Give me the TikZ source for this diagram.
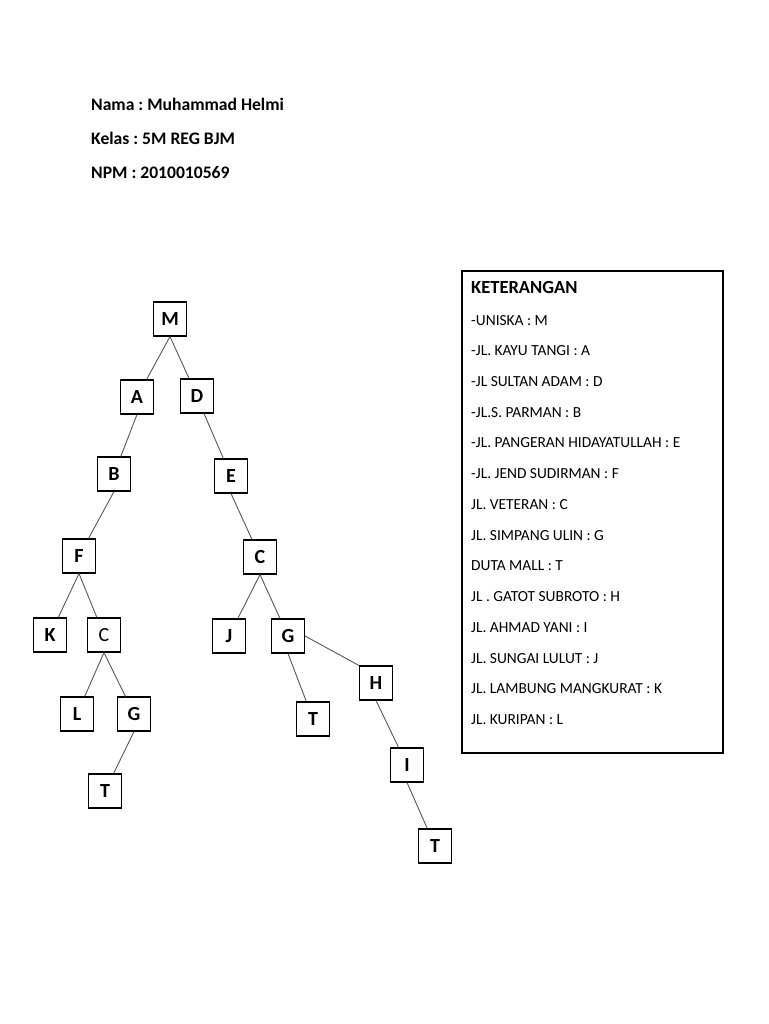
\documentclass[tikz,border=0pt]{standalone}
\usepackage{fontspec}
\setmainfont{Carlito}
\frenchspacing
\begin{document}
\begin{tikzpicture}[x=1pt,y=-1pt,
  box/.style={draw=black,line width=1.1pt,minimum width=33pt,minimum height=34pt,inner sep=0pt,font=\fontsize{20}{22}\selectfont\bfseries},
  tbox/.style={box,line width=1.8pt},
  edge/.style={draw=black!65,line width=0.9pt},
  hdr/.style={anchor=base west,inner sep=0pt,font=\fontsize{17.6}{20}\selectfont\bfseries},
  item/.style={anchor=base west,inner sep=0pt,font=\fontsize{15.4}{18}\selectfont}]
\useasboundingbox[fill=white] (0,0) rectangle (768,1024);
% header
\node[hdr] (h1) at (91,111) {Nama : Muhammad Helmi};
\node[hdr] (h2) at (91,145) {Kelas : 5M REG BJM};
\node[hdr] (h3) at (91,179) {NPM : 2010010569};
% tree nodes
\node[box] (M) at (170,319) {M};
\node[box] (A) at (137,397) {A};
\node[box] (D) at (197,396) {D};
\node[box] (B) at (114,474) {B};
\node[box] (E) at (231,476) {E};
\node[box] (F) at (79,556) {F};
\node[box] (K) at (50,635) {K};
\node[box,font=\fontsize{20}{22}\selectfont] (C1) at (104,635) {C};
\node[box] (L) at (77,714) {L};
\node[box] (G1) at (134,714) {G};
\node[tbox] (T1) at (105,791) {T};
\node[box] (C2) at (260,557) {C};
\node[box] (J) at (229,636) {J};
\node[box] (G2) at (288,636) {G};
\node[box] (H) at (376,683) {H};
\node[tbox] (T2) at (313,719) {T};
\node[box] (I) at (407,765) {I};
\node[tbox] (T3) at (435,846) {T};
% edges
\draw[edge] (M.south) -- (A);
\draw[edge] (M.south) -- (D);
\draw[edge] (A.south) -- (B);
\draw[edge] ([xshift=7pt]D.south) -- (E);
\draw[edge] (B.south) -- (F);
\draw[edge] (E.south) -- (C2);
\draw[edge] (F.south) -- (K);
\draw[edge] (F.south) -- (C1);
\draw[edge] (C1.south) -- (L);
\draw[edge] (C1.south) -- (G1);
\draw[edge] (G1.south) -- (T1);
\draw[edge] (C2.south) -- (J);
\draw[edge] (C2.south) -- (G2);
\draw[edge] (G2.south) -- (T2);
\draw[edge] (G2.east) -- (H.north west);
\draw[edge] (H.south) -- (I);
\draw[edge] (I.south) -- (T3);
% legend
\node[draw=black,line width=1.8pt,minimum width=261pt,minimum height=482pt,anchor=north west,inner sep=0pt] (leg) at (461,270) {};
\node[item,font=\fontsize{18.5}{20}\selectfont\bfseries] (lt) at (471,293) {KETERANGAN};
\node[item] (l1) at (471,325) {-UNISKA : M};
\node[item] (l2) at (471,355) {-JL. KAYU TANGI : A};
\node[item] (l3) at (471,386) {-JL SULTAN ADAM : D};
\node[item] (l4) at (471,417) {-JL.S. PARMAN : B};
\node[item] (l5) at (471,447) {-JL. PANGERAN HIDAYATULLAH : E};
\node[item] (l6) at (471,478) {-JL. JEND SUDIRMAN : F};
\node[item] (l7) at (471,509) {JL. VETERAN : C};
\node[item] (l8) at (471,540) {JL. SIMPANG ULIN : G};
\node[item] (l9) at (471,570) {DUTA MALL : T};
\node[item] (l10) at (471,601) {JL . GATOT SUBROTO : H};
\node[item] (l11) at (471,632) {JL. AHMAD YANI : I};
\node[item] (l12) at (471,663) {JL. SUNGAI LULUT : J};
\node[item] (l13) at (471,693) {JL. LAMBUNG MANGKURAT : K};
\node[item] (l14) at (471,724) {JL. KURIPAN : L};
\end{tikzpicture}
\end{document}
